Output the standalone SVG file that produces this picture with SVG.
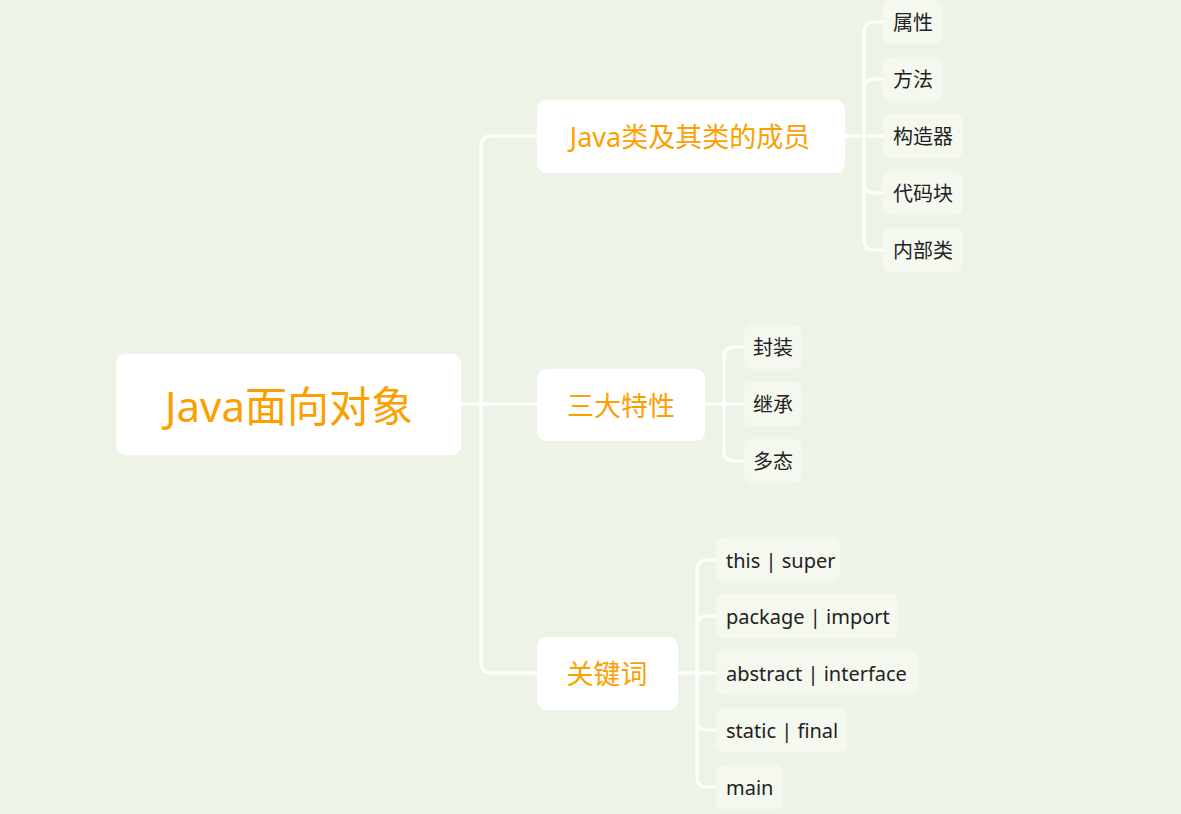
<svg xmlns="http://www.w3.org/2000/svg" width="1181" height="814" viewBox="0 0 1181 814">
<style>
.bg{fill:#EDF4E7}
.main{fill:#FFFFFF}
.leaf{fill:#F4F8EF}
.ot{fill:#FBA000;font-family:"Noto Sans","Noto Sans CJK SC",sans-serif;text-anchor:middle;dominant-baseline:central}
.lt{fill:#222222;font-family:"Noto Sans","Noto Sans CJK SC",sans-serif;font-size:20px;dominant-baseline:central}
.c{fill:none;stroke:#FFFFFF;stroke-width:3;stroke-linecap:round}
</style>
<rect class="bg" x="0" y="0" width="1181" height="814"/>
<g id="connectors">
<path class="c" d="M461,404 H481"/>
<path class="c" d="M481,404 V146 Q481,136 491,136 H537"/>
<path class="c" d="M481,404 V663 Q481,673 491,673 H537"/>
<path class="c" d="M481,404 H537"/>
<path class="c" d="M845,136 H883"/>
<path class="c" d="M864,136 V32 Q864,22 874,22 H883"/>
<path class="c" d="M864,136 V89 Q864,79 874,79 H883"/>
<path class="c" d="M864,136 V183 Q864,193 874,193 H883"/>
<path class="c" d="M864,136 V240 Q864,250 874,250 H883"/>
<path class="c" d="M705,404 H744"/>
<path class="c" d="M724,404 V357 Q724,347 734,347 H744"/>
<path class="c" d="M724,404 V451 Q724,461 734,461 H744"/>
<path class="c" d="M678,673 H716"/>
<path class="c" d="M697,673 V570 Q697,560 707,560 H716"/>
<path class="c" d="M697,673 V626 Q697,616 707,616 H716"/>
<path class="c" d="M697,673 V720 Q697,730 707,730 H716"/>
<path class="c" d="M697,673 V777 Q697,787 707,787 H716"/>
</g>
<g id="root"><rect class="main" x="116" y="354" width="345" height="101" rx="9"/><text class="ot" x="289" y="405" font-size="42">Java面向对象</text></g>
<g id="n-members"><rect class="main" x="537" y="100" width="308" height="73" rx="9"/><text class="ot" x="690" y="136" font-size="27">Java类及其类的成员</text></g>
<g id="n-features"><rect class="main" x="537" y="369" width="168" height="72" rx="9"/><text class="ot" x="621" y="405" font-size="27">三大特性</text></g>
<g id="n-keywords"><rect class="main" x="537" y="637" width="141" height="73" rx="9"/><text class="ot" x="607" y="673" font-size="27">关键词</text></g>
<g id="l-attr"><rect class="leaf" x="883" y="0" width="59" height="44" rx="7"/><text class="lt" x="893" y="22">属性</text></g>
<g id="l-method"><rect class="leaf" x="883" y="57" width="59" height="44" rx="7"/><text class="lt" x="893" y="79">方法</text></g>
<g id="l-ctor"><rect class="leaf" x="883" y="114" width="80" height="44" rx="7"/><text class="lt" x="893" y="136">构造器</text></g>
<g id="l-block"><rect class="leaf" x="883" y="171" width="80" height="44" rx="7"/><text class="lt" x="893" y="193">代码块</text></g>
<g id="l-inner"><rect class="leaf" x="883" y="228" width="80" height="44" rx="7"/><text class="lt" x="893" y="250">内部类</text></g>
<g id="l-encap"><rect class="leaf" x="744" y="325" width="58" height="44" rx="7"/><text class="lt" x="753" y="347">封装</text></g>
<g id="l-inherit"><rect class="leaf" x="744" y="382" width="58" height="44" rx="7"/><text class="lt" x="753" y="404">继承</text></g>
<g id="l-poly"><rect class="leaf" x="744" y="439" width="58" height="44" rx="7"/><text class="lt" x="753" y="461">多态</text></g>
<g id="l-this"><rect class="leaf" x="716" y="537" width="124" height="44" rx="7"/><text class="lt" x="726" y="560">this | super</text></g>
<g id="l-package"><rect class="leaf" x="716" y="594" width="182" height="44" rx="7"/><text class="lt" x="726" y="616">package | import</text></g>
<g id="l-abstract"><rect class="leaf" x="716" y="651" width="202" height="44" rx="7"/><text class="lt" x="726" y="673">abstract | interface</text></g>
<g id="l-static"><rect class="leaf" x="716" y="708" width="131" height="44" rx="7"/><text class="lt" x="726" y="730">static | final</text></g>
<g id="l-main"><rect class="leaf" x="716" y="765" width="66" height="44" rx="7"/><text class="lt" x="726" y="787">main</text></g>
</svg>
